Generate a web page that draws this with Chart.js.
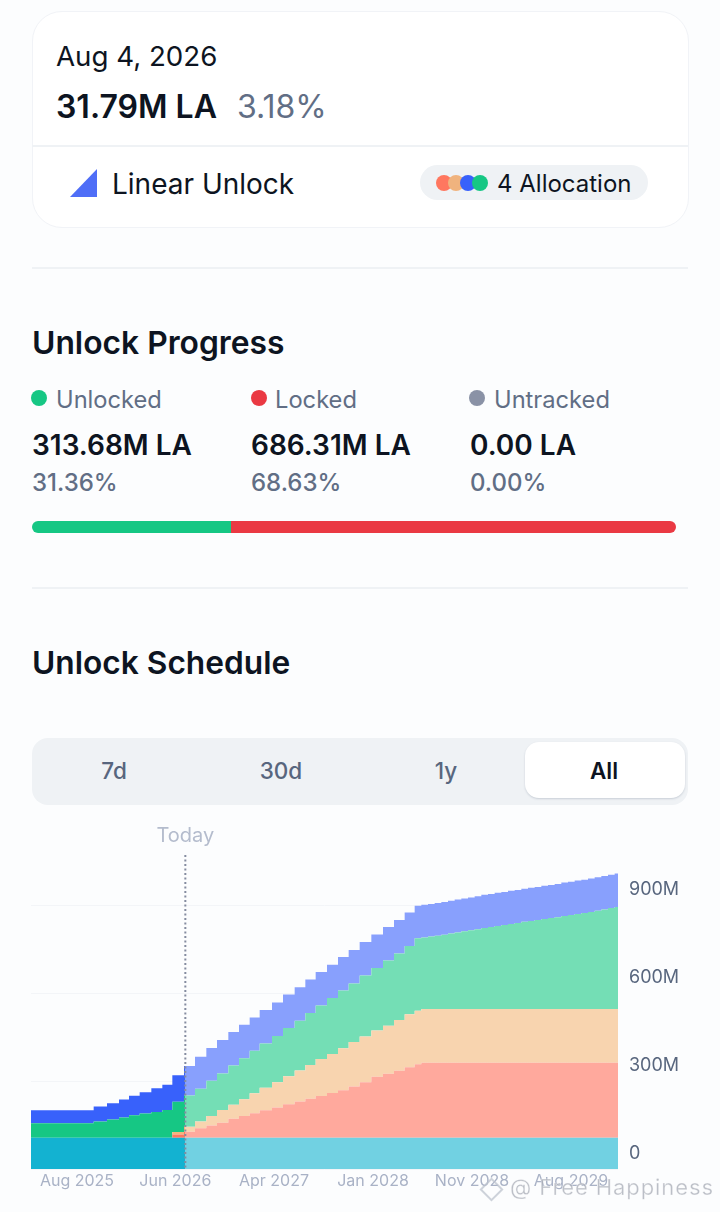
<!DOCTYPE html>
<html>
<head>
<meta charset="utf-8">
<title>Unlock Schedule</title>
<script src="https://cdn.jsdelivr.net/npm/chart.js@4"></script>
<style>
  html, body { margin: 0; padding: 0; background: #fcfdfe; }
  body { position: relative; width: 720px; height: 1212px; overflow: hidden; font-family: Inter, sans-serif; color: #0d1421; }
  .t { position: absolute; white-space: nowrap; line-height: 1; }
  .b { position: absolute; }
  .dot { position: absolute; border-radius: 50%; }
  .grey { color: #616e85; }
  .semi { font-weight: 600; }
  #chartBox { position: absolute; left: 0; top: 820px; width: 720px; height: 392px; }
</style>
</head>
<body>
  <!-- top card -->
  <div class="b" style="left:32px;top:11px;width:655px;height:215px;background:#fff;border:1px solid #f1f3f7;border-radius:30px;"></div>
  <div class="t" style="left:56px;top:43px;font-size:27.7px;">Aug 4, 2026</div>
  <div class="t semi" style="left:56px;top:91px;font-size:32px;">31.79M LA</div>
  <div class="t grey" style="left:237px;top:91px;font-size:32px;">3.18%</div>
  <div class="b" style="left:32px;top:145px;width:656px;height:2px;background:#eff2f5;"></div>
  <div class="b" style="left:70px;top:169px;width:27px;height:28px;background:#4f6ef7;clip-path:polygon(100% 0,100% 100%,0 100%);"></div>
  <div class="t" style="left:112px;top:170px;font-size:28px;">Linear Unlock</div>
  <div class="b" style="left:420px;top:165px;width:228px;height:35px;background:#eff2f5;border-radius:18px;"></div>
  <div class="dot" style="left:436px;top:175px;width:16px;height:16px;background:#ff775f;"></div>
  <div class="dot" style="left:448px;top:175px;width:16px;height:16px;background:#f0b37e;"></div>
  <div class="dot" style="left:460px;top:175px;width:16px;height:16px;background:#3861fb;"></div>
  <div class="dot" style="left:472px;top:175px;width:16px;height:16px;background:#16c784;"></div>
  <div class="t" style="left:497px;top:172px;font-size:24px;">4 Allocation</div>

  <div class="b" style="left:32px;top:267px;width:656px;height:2px;background:#eff2f5;"></div>

  <!-- unlock progress -->
  <div class="t semi" style="left:32px;top:327px;font-size:31.8px;">Unlock Progress</div>
  <div class="dot" style="left:31px;top:390px;width:16px;height:16px;background:#16c784;"></div>
  <div class="t grey" style="left:56px;top:388px;font-size:23.7px;">Unlocked</div>
  <div class="t semi" style="left:32px;top:431px;font-size:28px;">313.68M LA</div>
  <div class="t grey" style="left:32px;top:471px;font-size:24px;font-weight:500;">31.36%</div>
  <div class="dot" style="left:251px;top:390px;width:16px;height:16px;background:#ea3943;"></div>
  <div class="t grey" style="left:275px;top:388px;font-size:23.7px;">Locked</div>
  <div class="t semi" style="left:251px;top:431px;font-size:28px;">686.31M LA</div>
  <div class="t grey" style="left:251px;top:471px;font-size:24px;font-weight:500;">68.63%</div>
  <div class="dot" style="left:469px;top:390px;width:16px;height:16px;background:#8a92a6;"></div>
  <div class="t grey" style="left:494px;top:388px;font-size:23.7px;">Untracked</div>
  <div class="t semi" style="left:470px;top:431px;font-size:28px;">0.00 LA</div>
  <div class="t grey" style="left:470px;top:471px;font-size:24px;font-weight:500;">0.00%</div>
  <div class="b" style="left:32px;top:521px;width:644px;height:12px;border-radius:6px;background:linear-gradient(90deg,#16c784 0,#16c784 199px,#ea3943 199px);"></div>

  <div class="b" style="left:32px;top:587px;width:656px;height:2px;background:#eff2f5;"></div>

  <!-- unlock schedule -->
  <div class="t semi" style="left:32px;top:647px;font-size:31.7px;">Unlock Schedule</div>
  <div class="b" style="left:32px;top:738px;width:656px;height:67px;background:#eff2f5;border-radius:16px;"></div>
  <div class="b" style="left:525px;top:742px;width:160px;height:56px;background:#fff;border-radius:14px;box-shadow:0 1px 2px rgba(88,102,126,.25);"></div>
  <div class="t" style="left:114px;top:760px;font-size:22.5px;font-weight:500;color:#58667e;transform:translateX(-50%);">7d</div>
  <div class="t" style="left:281px;top:760px;font-size:22.5px;font-weight:500;color:#58667e;transform:translateX(-50%);">30d</div>
  <div class="t" style="left:446px;top:760px;font-size:22.5px;font-weight:500;color:#58667e;transform:translateX(-50%);">1y</div>
  <div class="t semi" style="left:604px;top:760px;font-size:22.5px;transform:translateX(-50%);">All</div>

  <div id="chartBox"><canvas id="chart1"></canvas></div>

  <!-- watermark over the chart -->
  <div class="b" style="left:483px;top:1181px;width:13px;height:13px;border:2px solid rgba(190,195,205,.75);transform:rotate(45deg);"></div>
  <div class="t" style="left:510px;top:1176px;font-size:22px;letter-spacing:.9px;color:rgba(165,170,180,.75);-webkit-text-stroke:.5px rgba(255,255,255,.6);">@ Free Happiness</div>

<script>
// x values are days from the left edge of the chart
const stepDays = [0, 188, 228, 264, 294, 326, 361, 394, 424, 459, 492, 526, 558, 592, 624, 656, 686, 723, 756, 791, 823, 854, 888, 921, 953, 986, 1021, 1056, 1089, 1121, 1151,
  1171, 1191, 1211, 1231, 1251, 1271, 1291, 1311, 1331, 1351, 1371, 1391, 1411, 1431, 1451, 1471, 1491, 1511, 1531, 1551, 1571, 1591, 1611, 1631, 1651, 1671, 1691, 1711, 1731, 1751, 1761];
const tickDays = [138, 433, 729, 1026, 1323, 1620];
const tickLabels = ['Aug 2025', 'Jun 2026', 'Apr 2027', 'Jan 2028', 'Nov 2028', 'Aug 2029'];
const todayDay = 463;
const yTicks = [0, 300, 600, 900];

// series values in millions of LA
const tealValues = [107, 107, 107, 107, 107, 107, 107, 107, 107, 107, 107, 107, 107, 107, 107, 107, 107, 107, 107, 107, 107, 107, 107, 107, 107, 107, 107, 107, 107, 107, 107,
  107, 107, 107, 107, 107, 107, 107, 107, 107, 107, 107, 107, 107, 107, 107, 107, 107, 107, 107, 107, 107, 107, 107, 107, 107, 107, 107, 107, 107, 107, 107];
const salmonValues = [0, 0, 0, 0, 0, 0, 0, 0, 11, 20, 32, 41, 51, 64, 74, 83, 93, 103, 114, 123, 133, 142, 152, 162, 174, 189, 208, 218, 228, 240, 250,
  255, 255, 255, 255, 255, 255, 255, 255, 255, 255, 255, 255, 255, 255, 255, 255, 255, 255, 255, 255, 255, 255, 255, 255, 255, 255, 255, 255, 255, 255, 255];
const peachValues = [0, 0, 0, 0, 0, 0, 0, 0, 8, 17, 23, 33, 43, 48, 57, 68, 77, 86, 95, 106, 115, 126, 133, 143, 152, 156, 157, 164, 173, 181, 183,
  184, 184, 184, 184, 184, 184, 184, 184, 184, 184, 184, 184, 184, 184, 184, 184, 184, 184, 184, 184, 184, 184, 184, 184, 184, 184, 184, 184, 184, 184, 184];
const greenValues = [49, 55, 62, 69, 76, 82, 87, 94, 103, 107, 112, 120, 125, 134, 140, 145, 151, 158, 165, 170, 177, 183, 191, 197, 200, 208, 214, 222, 227, 233, 247,
  244, 247, 250, 253, 257, 261, 265, 268, 272, 276, 279, 283, 286, 290, 293, 297, 300, 303, 307, 310, 313, 317, 320, 324, 327, 331, 335, 339, 344, 348, 349];
const blueValues = [44, 51, 55, 61, 67, 73, 81, 86, 91, 100, 109, 112, 114, 114, 114, 114, 114, 114, 114, 114, 114, 114, 114, 114, 114, 114, 114, 114, 114, 114, 111,
  111, 111, 111, 112, 112, 112, 112, 112, 112, 113, 113, 113, 113, 113, 113, 113, 113, 113, 113, 113, 113, 114, 114, 114, 114, 114, 114, 114, 114, 114, 114];

// left of today is solid, right of it is the washed out colour
function splitFill(dark, light) {
    return function(ctx) {
        const chart = ctx.chart;
        if (!chart.chartArea || !chart.scales.x) return dark;
        const area = chart.chartArea;
        const stop = (chart.scales.x.getPixelForValue(todayDay) - area.left) / (area.right - area.left);
        const g = chart.ctx.createLinearGradient(area.left, 0, area.right, 0);
        g.addColorStop(0, dark);
        g.addColorStop(stop, dark);
        g.addColorStop(stop, light);
        g.addColorStop(1, light);
        return g;
    };
}

function series(label, data, dark, light, fill) {
    return {
        label: label,
        data: data,
        backgroundColor: splitFill(dark, light),
        borderWidth: 0,
        pointRadius: 0,
        stepped: true,
        fill: fill
    };
}

const todayLine = {
    id: 'todayLine',
    afterDatasetsDraw(chart) {
        const c = chart.ctx;
        const x = chart.scales.x.getPixelForValue(todayDay);
        c.save();
        c.strokeStyle = '#858ca0';
        c.lineWidth = 2;
        c.setLineDash([2, 2.5]);
        c.beginPath();
        c.moveTo(x, chart.chartArea.top);
        c.lineTo(x, chart.chartArea.bottom);
        c.stroke();
        c.setLineDash([]);
        c.fillStyle = '#b4bccd';
        c.font = '20px Inter';
        c.textAlign = 'center';
        c.textBaseline = 'middle';
        c.fillText('Today', x, 15.5);
        c.restore();
    }
};

document.addEventListener("DOMContentLoaded", function() {
    const ctx1 = document.getElementById('chart1').getContext('2d');
    new Chart(ctx1, {
        type: 'line',
        data: {
            labels: stepDays,
            datasets: [
                series('Teal', tealValues, '#13b2d1', '#71d1e2', 'origin'),
                series('Salmon', salmonValues, '#ff775f', '#ffa99d', '-1'),
                series('Peach', peachValues, '#f4b57d', '#f8d4af', '-1'),
                series('Green', greenValues, '#16c784', '#74deb5', '-1'),
                series('Blue', blueValues, '#3861fb', '#88a0fd', '-1')
            ]
        },
        plugins: [todayLine],
        options: {
            responsive: true,
            maintainAspectRatio: false,
            animation: false,
            layout: { padding: { left: 31, top: 35 } },
            plugins: { legend: { display: false }, tooltip: { enabled: false } },
            scales: {
                x: {
                    type: 'linear',
                    min: 0,
                    max: 1761,
                    grid: { display: false, drawTicks: false },
                    border: { display: false },
                    afterFit: function(axis) {
                        axis.height = 43;
                        axis.paddingLeft = 0;
                        axis.paddingRight = 0;
                    },
                    afterBuildTicks: function(axis) {
                        axis.ticks = tickDays.map(function(d) { return { value: d }; });
                    },
                    ticks: {
                        autoSkip: false,
                        maxRotation: 0,
                        padding: 3,
                        color: '#a9b2c6',
                        font: { family: 'Inter', size: 16 },
                        callback: function(value, index) { return tickLabels[index]; }
                    }
                },
                y: {
                    position: 'right',
                    stacked: true,
                    min: 0,
                    max: 1071,
                    grid: { color: '#f3f5f8', drawTicks: false },
                    border: { display: false },
                    afterFit: function(axis) {
                        axis.width = 102;
                        axis.paddingTop = 0;
                        axis.paddingBottom = 0;
                    },
                    afterBuildTicks: function(axis) {
                        axis.ticks = yTicks.map(function(v) { return { value: v }; });
                    },
                    ticks: {
                        padding: 11,
                        color: '#58667e',
                        font: { family: 'Inter', size: 18, lineHeight: '31px' },
                        // empty second line lifts the label above its gridline
                        callback: function(value) { return [value === 0 ? '0' : value + 'M', '']; }
                    }
                }
            }
        }
    });
});
</script>
</body>
</html>
